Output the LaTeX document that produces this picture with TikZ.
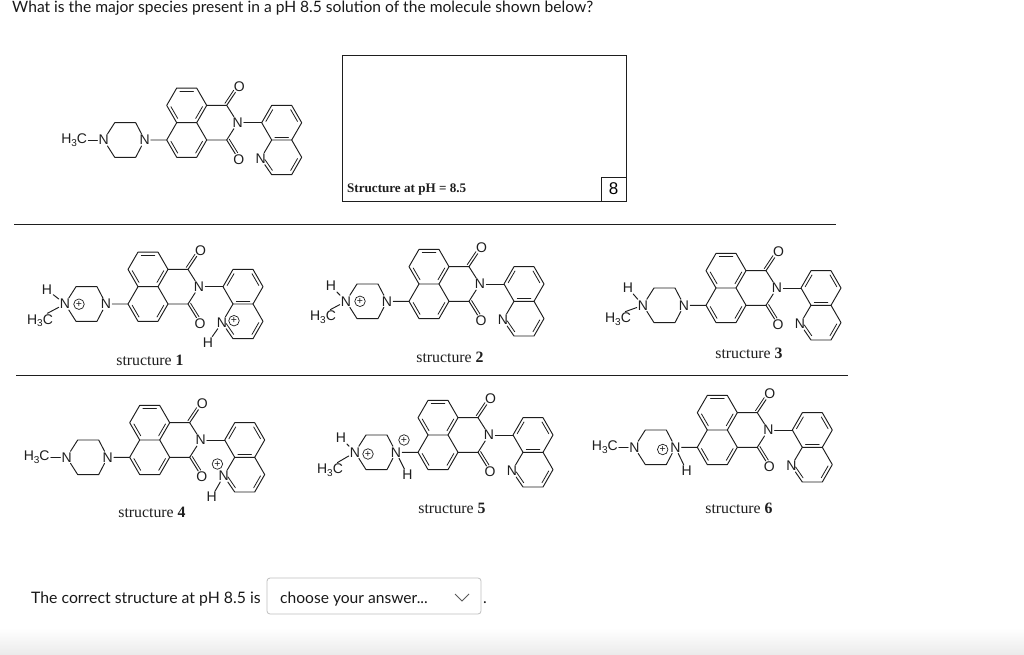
\documentclass[tikz,border=0pt]{standalone}
\usepackage{fontspec}
\setmainfont{Lato}
\newfontfamily\chem{Liberation Sans}
\newfontfamily\tnr{Liberation Serif}
\usetikzlibrary{calc}
\definecolor{ink}{HTML}{1E1E1E}
\tikzset{
  bond/.style={draw=ink,line width=0.95pt,line cap=round,line join=round},
  atom/.style={font=\chem\fontsize{14}{14}\selectfont,text=ink,inner sep=1pt},
  plus/.style={circle,draw=ink,line width=0.7pt,inner sep=0pt,minimum size=10.5pt,font=\chem\fontsize{10.5}{10.5}\selectfont,text=ink},
  caplabel/.style={font=\tnr\fontsize{15.8}{16}\selectfont,text=ink,inner sep=0pt},
  ui/.style={font=\fontsize{15.6}{16}\selectfont,text=black!90,inner sep=0pt,anchor=base west},
}
\newcommand{\dbl}[2]{\draw[bond,line width=0.8pt] ($(#1)!.16!(#2)!3pt!-90:(#2)$) -- ($(#2)!.16!(#1)!3pt!90:(#1)$);}
\newcommand{\cdo}[2]{\draw[bond] (#1) -- (#2); \draw[bond,line width=0.8pt] ($(#1)!.03!(#2)!2.6pt!-90:(#2)$) -- ($(#2)!.27!(#1)!2.6pt!90:(#1)$);}
\newcommand{\methyl}{H\raisebox{-2.5pt}{\fontsize{10}{10}\selectfont 3}C}
\newcommand{\mol}[4]{%
\begin{scope}[shift={(#2,#3)},yscale=-1,name prefix=#1-]
  \foreach \nm/\px/\py in {a/0/0,b/20/0,c/-10/17.3,d/0/34.6,e/20/34.6,f/30/17.3,g/-10/-17.3,h/0/-34.6,i/20/-34.6,j/30/-17.3,k/50/17.3,l/50/-17.3,m/85/0,n/95/17.3,o/115/17.3,p/125/0,q/115/-17.3,r/95/-17.3,s/125/-34.6,t/115/-52,u/95/-52,v/-41/0,w/-62/0,x/-62/-34.6,y/-41/-34.6}
    {\coordinate (\nm) at (\px,\py);}
  \node[atom] (ni) at (61,0) {N};
  \node[atom] (nq) at (84,-36) {N};
  \node[atom] (nr) at (-32,-17.3) {N};
  \node[atom] (nl) at (-73,-17.3) {N};
  \node[atom,inner sep=0.5pt] (o1) at (62.5,36) {O};
  \node[atom,inner sep=0.5pt] (o2) at (62,-36.6) {O};
  \draw[bond] (f) -- (e) -- (d) -- (c) -- (a) -- (b) -- (f);
  \draw[bond] (a) -- (g) -- (h) -- (i) -- (j) -- (b);
  \dbl{e}{d}\dbl{c}{a}\dbl{b}{f}\dbl{g}{h}\dbl{i}{j}
  \draw[bond] (f) -- (k) -- (ni) -- (l) -- (j);
  \cdo{k}{o1}\cdo{l}{o2}
  \draw[bond] (ni) -- (m);
  \draw[bond] (m) -- (n) -- (o) -- (p) -- (q) -- (r) -- (m);
  \draw[bond] (r) -- (nq) -- (u) -- (t) -- (s) -- (q);
  \dbl{r}{q}\dbl{p}{o}\dbl{n}{m}\dbl{nq}{u}\dbl{t}{s}
  \draw[bond] (g) -- (nr) -- (v) -- (w) -- (nl) -- (x) -- (y) -- (nr);
  #4
\end{scope}}
\begin{document}
\begin{tikzpicture}[x=1pt,y=-1pt]
\useasboundingbox (0,0) rectangle (1024,655);
\fill[white] (0,0) rectangle (1024,655);
\shade[top color=white,bottom color=black!8] (0,628) rectangle (1024,655);

\node[ui] (title) at (12,12.5) {What is the major species present in a pH 8.5 solution of the molecule shown below?};

% answer box
\node[draw=ink,line width=0.9pt,minimum width=284pt,minimum height=146pt,inner sep=0pt] (ansbox) at (484,128) {};
\node[draw=ink,line width=0.9pt,minimum width=25pt,minimum height=24pt,inner sep=0pt,font=\chem\fontsize{17}{17}\selectfont] (eight) at (613.5,189) {8};
\node[font=\tnr\bfseries\fontsize{13.1}{14}\selectfont,text=ink,inner sep=0pt,anchor=west] (stlab) at (347,190) {Structure at pH = 8.5};

% rules
\coordinate (r1a) at (14,224); \coordinate (r1b) at (836,224);
\coordinate (r2a) at (16,375); \coordinate (r2b) at (848,375);
\draw[ink,line width=0.9pt] (r1a) -- (r1b);
\draw[ink,line width=0.9pt] (r2a) -- (r2b);

% given molecule
\mol{m0}{176.7}{122.7}{
  \node[atom] (me) at (-102.5,-17.3) {\methyl};
  \draw[bond] (nl) -- (me);
}
% structure 1
\mol{m1}{138}{286.7}{
  \node[atom] (hh) at (-91,-3) {H};
  \node[atom] (me) at (-98,-34) {\methyl};
  \node[plus] (pc) at (-59,-17.5) {+};
  \draw[bond] (nl) -- (hh);
  \draw[bond] (nl) -- (me.45);
  \node[plus] (pq) at (96,-34) {+};
  \node[atom] (hq) at (70,-56) {H};
  \draw[bond] (nq) -- (hq);
}
% structure 2
\mol{m2}{419}{284}{
  \node[atom] (hh) at (-88,-2) {H};
  \node[atom] (me) at (-96,-33) {\methyl};
  \node[plus] (pc) at (-59,-17.3) {+};
  \draw[bond] (nl) -- (hh);
  \draw[bond] (nl) -- (me.45);
}
% structure 3
\mol{m3}{716}{288}{
  \node[atom] (hh) at (-88,0) {H};
  \node[atom] (me) at (-98,-31) {\methyl};
  \draw[bond] (nl) -- (hh);
  \draw[bond] (nl) -- (me.45);
}
% structure 4
\mol{m4}{139.7}{440}{
  \node[atom] (me) at (-103,-17.3) {\methyl};
  \draw[bond] (nl) -- (me);
  \node[plus] (pq) at (77.7,-24) {+};
  \node[atom] (hq) at (72,-57) {H};
  \draw[bond] (nq) -- (hq);
}
% structure 5
\mol{m5}{428}{435}{
  \node[atom] (hh) at (-87,-3) {H};
  \node[atom] (me) at (-98,-35) {\methyl};
  \node[plus] (pc) at (-60,-19) {+};
  \draw[bond] (nl) -- (hh);
  \draw[bond] (nl) -- (me.45);
  \node[plus] (pr) at (-24,-5) {+};
  \node[atom] (hr) at (-20.6,-40) {H};
  \draw[bond] (nr) -- (hr);
}
% structure 6
\mol{m6}{707.3}{430}{
  \node[atom] (me) at (-102.5,-17.3) {\methyl};
  \draw[bond] (nl) -- (me);
  \node[plus] (pr) at (-44.6,-19.5) {+};
  \node[atom] (hr) at (-20.6,-41) {H};
  \draw[bond] (nr) -- (hr);
}

\node[caplabel] (c1) at (150,360) {structure \textbf{1}};
\node[caplabel] (c2) at (450,357) {structure \textbf{2}};
\node[caplabel] (c3) at (749,353) {structure \textbf{3}};
\node[caplabel] (c4) at (152,512) {structure \textbf{4}};
\node[caplabel] (c5) at (452,508) {structure \textbf{5}};
\node[caplabel] (c6) at (739,508) {structure \textbf{6}};

% answer line
\node[ui,font=\fontsize{15.8}{16}\selectfont] (q) at (31,603) {The correct structure at pH 8.5 is};
\node[draw=black!25,line width=0.8pt,rounded corners=3pt,minimum width=214pt,minimum height=36pt,inner sep=0pt] (sel) at (374,596) {};
\node[ui] (ch) at (280,603) {choose your answer...};
\coordinate (v1) at (455,594); \coordinate (v2) at (462,601); \coordinate (v3) at (469,594);
\draw[black!65,line width=0.8pt] (v1) -- (v2) -- (v3);
\node[ui] (dot) at (483,603) {.};
\end{tikzpicture}
\end{document}
